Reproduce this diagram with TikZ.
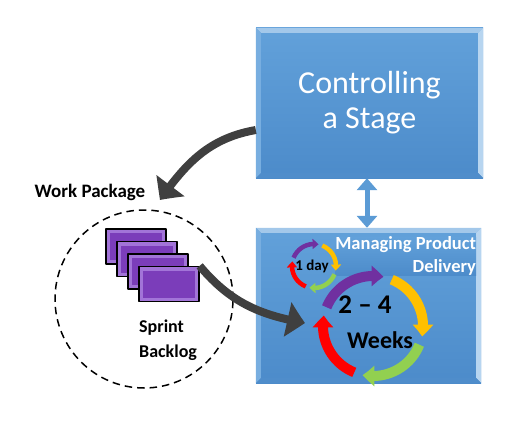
\documentclass[tikz,border=0pt]{standalone}
\usepackage{fontspec}
\setmainfont{Carlito}
\usetikzlibrary{arrows.meta,bending,calc}

\definecolor{stagetop}{HTML}{62A1DA}
\definecolor{stagebot}{HTML}{4C8BCA}
\definecolor{bevtop}{HTML}{A3C8EA}
\definecolor{bevleft}{HTML}{78AEE0}
\definecolor{bevright}{HTML}{B7D5F0}
\definecolor{bevbot}{HTML}{4F8DCB}
\definecolor{linkblue}{HTML}{5B9BD5}
\definecolor{flowgray}{HTML}{3F3F3F}
\definecolor{cardedge}{HTML}{A274D8}
\definecolor{cardface}{HTML}{7B3DBA}
\definecolor{cycpurple}{HTML}{7030A0}
\definecolor{cycyellow}{HTML}{FFC000}
\definecolor{cycgreen}{HTML}{92D050}
\definecolor{cycred}{HTML}{FF0000}

% bevelled edge round a box node: #1 name, #2 edge width
\newcommand\bevelbox[2]{%
  \fill[bevtop] (#1.north west) -- (#1.north east) -- ($(#1.north east)+(-#2,-#2)$) -- ($(#1.north west)+(#2,-#2)$) -- cycle;
  \fill[bevleft] (#1.north west) -- ($(#1.north west)+(#2,-#2)$) -- ($(#1.south west)+(#2,#2)$) -- (#1.south west) -- cycle;
  \fill[bevright] (#1.north east) -- ($(#1.north east)+(-#2,-#2)$) -- ($(#1.south east)+(-#2,#2)$) -- (#1.south east) -- cycle;
  \fill[bevbot] (#1.south west) -- ($(#1.south west)+(#2,#2)$) -- ($(#1.south east)+(-#2,#2)$) -- (#1.south east) -- cycle;
}

\begin{document}
\begin{tikzpicture}[x=1pt, y=1pt, line cap=round, line join=round,
  stagebox/.style={inner sep=0pt, top color=stagetop, bottom color=stagebot, text=white},
  sprintcard/.style={minimum width=60pt, minimum height=35pt, inner sep=0pt, draw=black, line width=1.3pt, fill=cardedge,
    path picture={\fill[cardface] ($(path picture bounding box.north west)+(4,-4)$) rectangle ($(path picture bounding box.south east)+(-4,4)$);}},
  flow/.style={draw=flowgray, line width=8pt, line cap=butt, -{Triangle[bend, length=18pt, width=34pt]}},
  bigcyc/.style={line width=10pt, line cap=butt, -{Triangle[bend, length=12pt, width=20pt]}},
  smallcyc/.style={line width=4.5pt, line cap=butt, -{Triangle[bend, length=6pt, width=10pt]}},
  label/.style={font=\bfseries, text=black, inner sep=0pt}]
\useasboundingbox (0,0) rectangle (529,432);

% the two stage boxes
\node[stagebox, minimum width=227pt, minimum height=150pt, font=\fontsize{32}{35}\selectfont, align=center] (ctrl) at (369.5,329) {Controlling\\a Stage};
\bevelbox{ctrl}{5}
\node[stagebox, minimum width=225pt, minimum height=155pt] (deliv) at (368.5,126.5) {};
\bevelbox{deliv}{5}
\node[stagebox, font=\fontsize{18.5}{23}\selectfont\bfseries, align=right, anchor=north east] (mpdlabel) at ($(deliv.north east)+(-5,-9)$) {Managing Product\\Delivery};

\draw[linkblue, line width=5pt, line cap=butt, {Triangle[length=12pt,width=20pt]}-{Triangle[length=12pt,width=20pt]}] ($(ctrl.south)+(-2.5,0)$) -- ($(deliv.north)+(-1.5,0)$);

% work package
\draw[black, line width=1.5pt, line cap=butt, dash pattern=on 7.5pt off 5pt] (144,133) circle[radius=89];
\coordinate (wp) at (144,133);
\node[label, font=\fontsize{19}{22}\selectfont\bfseries] (wplabel) at (90,240) {Work Package};
\coordinate (wptip) at (160,232);

\node[sprintcard] (card1) at (136,185.5) {};
\node[sprintcard] (card2) at (147,173) {};
\node[sprintcard] (card3) at (158,160.5) {};
\node[sprintcard] (card4) at (169,148) {};
\node[label, font=\fontsize{18}{25}\selectfont\bfseries, align=left, anchor=west] (backlog) at (139,92) {Sprint\\Backlog};

% sprint cycles
\coordinate (bigc) at (373,106);
\draw[bigcyc, cycpurple] ($(bigc)+(158:50)$) arc[start angle=158, end angle=78, radius=50];
\draw[bigcyc, cycyellow] ($(bigc)+(68:50)$) arc[start angle=68, end angle=-12, radius=50];
\draw[bigcyc, cycgreen] ($(bigc)+(-22:50)$) arc[start angle=-22, end angle=-102, radius=50];
\draw[bigcyc, cycred] ($(bigc)+(-112:50)$) arc[start angle=-112, end angle=-192, radius=50];
\node[label, font=\fontsize{27}{30}\selectfont\bfseries] (twofour) at (365,127) {2 -- 4};
\node[label, font=\fontsize{24}{28}\selectfont\bfseries] (weeks) at (380,92) {Weeks};

\coordinate (smallc) at (314,166);
\draw[smallcyc, cycpurple] ($(smallc)+(158:22)$) arc[start angle=158, end angle=78, radius=22];
\draw[smallcyc, cycyellow] ($(smallc)+(68:22)$) arc[start angle=68, end angle=-12, radius=22];
\draw[smallcyc, cycgreen] ($(smallc)+(-22:22)$) arc[start angle=-22, end angle=-102, radius=22];
\draw[smallcyc, cycred] ($(smallc)+(-112:22)$) arc[start angle=-112, end angle=-192, radius=22];
\node[label, font=\fontsize{15}{17}\selectfont\bfseries] (oneday) at (312,166) {1 day};

% flows
\coordinate (mpdtip) at (305,109);
\draw[flow] ($(ctrl.west)+(0,-27)$) to[out=190, in=55] (wptip);
\draw[flow] (card4.north east) to[out=-50, in=170] (mpdtip);
\end{tikzpicture}
\end{document}
